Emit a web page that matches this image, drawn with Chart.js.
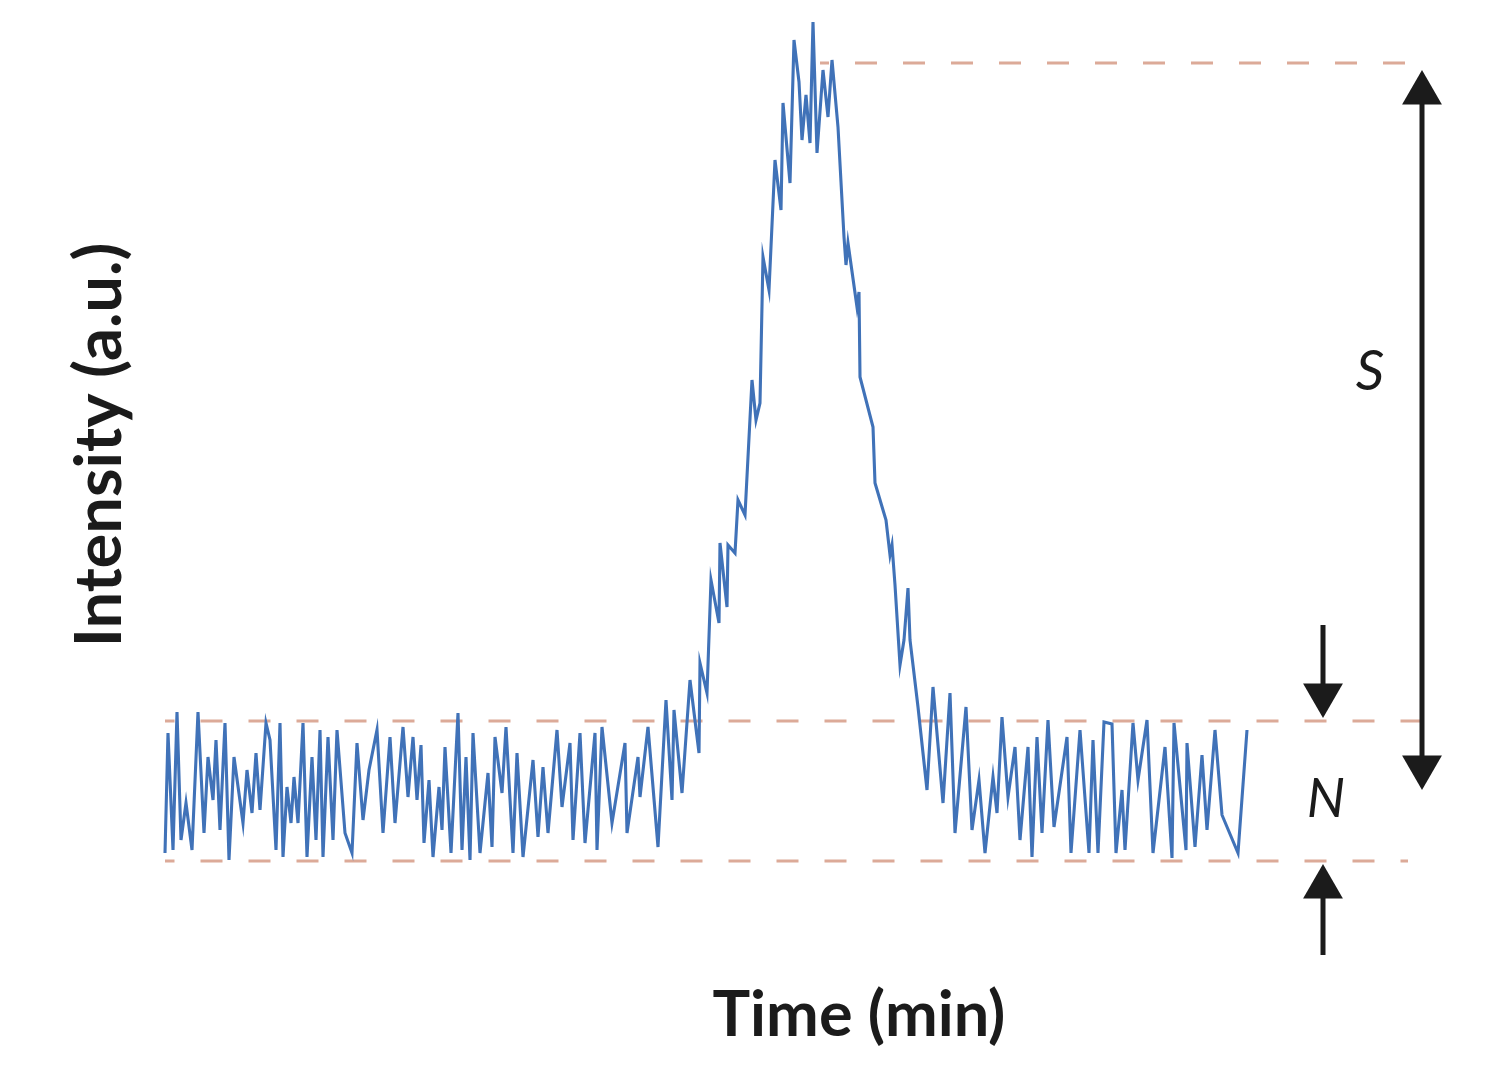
<!DOCTYPE html>
<html><head><meta charset="utf-8">
<script src="https://cdn.jsdelivr.net/npm/chart.js@4.4.1/dist/chart.umd.min.js"></script>
<style>html,body{margin:0;padding:0;background:#fff}#wrap{width:1500px;height:1080px}</style>
</head><body><div id="wrap"><canvas id="c" width="1500" height="1080"></canvas></div>
<script>
// Signal trace (time in min, intensity in a.u.)
const timeMin = [
0.5,0.8,1.3,1.7,2.1,2.6,3.2,3.8,4.4,4.8,5.3,5.6,6.0,6.5,6.9,7.4,8.3,8.7,9.2,9.6,
10.0,10.6,11.0,11.6,12.0,12.3,12.7,13.1,13.4,13.8,14.3,14.7,15.2,15.6,16.0,16.3,16.8,17.3,17.7,18.5,
19.2,19.7,20.3,20.9,21.7,22.3,23.0,23.5,24.3,24.8,25.3,25.7,26.1,26.4,26.9,27.3,27.9,28.2,28.5,29.1,
29.8,30.2,30.6,31.0,31.3,32.0,32.8,33.2,33.5,34.2,34.6,35.3,35.7,36.3,37.3,37.8,38.3,38.8,39.7,40.2,
41.0,41.3,42.0,42.5,43.5,43.7,44.2,45.2,46.5,46.7,47.8,48.0,48.8,49.8,50.6,51.2,51.4,52.2,53.0,53.9,
54.0,54.7,55.1,55.9,56.0,56.7,56.8,57.5,57.8,58.5,59.2,59.6,60.0,60.3,60.9,61.5,62.1,62.3,63.0,63.4,
63.9,64.2,64.6,65.0,65.3,65.7,66.3,66.8,67.2,67.8,68.4,68.6,68.8,69.7,69.9,70.0,71.3,71.5,72.3,72.6,
73.0,73.2,73.5,74.0,74.4,74.8,75.0,75.8,76.7,77.3,78.3,79.0,79.5,80.6,81.2,81.9,82.5,83.3,83.7,84.2,
84.8,85.5,86.0,86.8,87.2,87.7,88.2,88.8,89.4,90.7,91.1,92.0,92.9,93.3,93.8,94.4,95.2,95.6,96.2,96.5,
97.3,97.8,98.7,99.3,100.5,101.2,101.4,102.6,102.7,103.5,104.2,104.7,105.5,106.2,107.8,108.7
];
const intensity = [
0.8,12.8,1.1,14.9,2.1,5.8,1.1,14.9,2.8,10.4,6.1,12.1,3.1,13.8,0.1,10.4,3.8,9.1,4.8,10.8,
5.1,13.8,12.1,1.1,13.8,0.4,7.4,3.8,8.4,3.8,13.8,0.4,10.4,2.1,13.1,0.4,12.4,2.1,13.1,2.8,
0.8,11.8,4.1,9.1,13.1,2.8,12.4,3.8,13.4,6.4,12.4,6.1,11.6,1.8,8.1,0.4,7.4,3.1,11.4,0.8,
14.8,1.1,10.4,0.1,12.8,0.8,8.8,1.4,12.4,6.8,13.4,0.8,10.8,0.4,10.1,2.4,9.4,2.8,13.1,5.4,
11.8,2.1,12.8,1.8,12.8,1.1,13.4,3.8,11.8,2.8,10.4,6.4,13.4,1.4,16.1,6.1,15.1,6.8,18.1,10.8,
19.8,16.8,28.1,23.8,31.8,25.4,31.6,30.8,36.1,34.6,48.1,44.1,45.8,60.4,57.1,70.1,65.1,75.8,67.8,82.1,
77.9,72.1,76.6,71.8,83.9,70.8,79.1,74.4,80.1,73.4,62.4,59.6,61.8,55.4,56.9,48.4,43.4,37.8,35.1,34.1,
30.6,31.6,27.6,19.6,22.1,27.3,22.1,15.4,7.1,17.4,5.8,16.8,2.8,15.4,3.1,8.1,0.8,8.4,4.8,14.4,
6.4,11.4,2.1,11.4,0.4,12.4,2.8,14.1,3.4,12.4,0.8,13.1,0.8,12.1,0.8,13.9,13.7,0.8,7.1,1.1,
13.8,8.1,14.1,0.8,11.4,0.3,13.8,1.1,11.8,1.4,10.6,3.1,13.1,4.6,0.8,13.1
];
// Reference levels (a.u.)
const levelNames = ['signalTop','noiseTop','noiseBottom'];
const levelValues = [79.8, 14.0, 0.0];
const levelFrom = [66.0, 0.5, 0.5];
const levelTo = [124.8, 126.5, 124.8];
const levelDashOffset = [13, 12.5, 12.5];
// Arrows: x, start value, end value (head at end value)
const arrowS = {x:126.2, from:76.8, to:9.4};
const arrowNTop = {x:116.3, from:23.6, to:16.6};
const arrowNBottom = {x:116.3, from:-9.4, to:-2.6};
const labels = [{text:'S', x:121.0, y:48.9, size:56},{text:'N', x:116.6, y:6.1, size:54}];
const xTitle = 'Time (min)';
const yTitle = 'Intensity (a.u.)';
const xRange = [5.8, 134];
const yRange = [-2.9, 86.1];

const signal = timeMin.map((t,i)=>({x:t,y:intensity[i]}));
const dashColor = '#dcaa98';
const datasets = [];
datasets.push({data:signal, borderColor:'#4072b8', borderWidth:3.1, pointRadius:0, tension:0, clip:false, order:1});
levelValues.forEach((v,i)=>{
  datasets.push({label:levelNames[i], data:[{x:levelFrom[i],y:v},{x:levelTo[i],y:v}],
    borderColor:dashColor, borderWidth:3, borderDash:[22,26], borderDashOffset:levelDashOffset[i],
    pointRadius:0, clip:false, order:5});
});
function arrow(a, headStart, headEnd, rotStart, rotEnd){
  return {data:[{x:a.x,y:a.from},{x:a.x,y:a.to}], borderColor:'#1b1b1b', backgroundColor:'#1b1b1b',
    borderWidth:5, pointStyle:'triangle', pointRadius:[headStart?23:0, headEnd?23:0],
    pointRotation:[rotStart, rotEnd], pointBorderWidth:0, clip:false, order:0};
}
datasets.push(arrow(arrowS, true, true, 0, 180));
datasets.push(arrow(arrowNTop, false, true, 0, 180));
datasets.push(arrow(arrowNBottom, false, true, 0, 0));

const labelPlugin = {
  id:'labels',
  afterDatasetsDraw(chart){
    const ctx = chart.ctx, xs = chart.scales.x, ys = chart.scales.y;
    ctx.save();
    ctx.fillStyle = '#1b1b1b';
    ctx.textAlign = 'center'; ctx.textBaseline = 'middle';
    labels.forEach(l=>{
      ctx.font = 'italic ' + l.size + 'px Lato';
      ctx.fillText(l.text, xs.getPixelForValue(l.x), ys.getPixelForValue(l.y));
    });
    ctx.restore();
  }
};

new Chart(document.getElementById('c'), {
  type:'line',
  data:{datasets},
  plugins:[labelPlugin],
  options:{
    responsive:false, animation:false,
    layout:{autoPadding:false, padding:{left:0, right:0, top:0, bottom:0}},
    plugins:{legend:{display:false}, tooltip:{enabled:false}},
    scales:{
      x:{type:'linear', bounds:'data', grid:{display:false, drawTicks:false}, border:{display:false},
        ticks:{display:false},
        afterDataLimits(scale){ scale.min = xRange[0]; scale.max = xRange[1]; },
        title:{display:true, text:xTitle, color:'#1b1b1b', font:{family:'Lato', size:63, weight:'bold', lineHeight:1.2}, padding:{top:88.2, bottom:26.2}}},
      y:{type:'linear', min:yRange[0], max:yRange[1], grid:{display:false, drawTicks:false}, border:{display:false},
        ticks:{display:false},
        title:{display:true, text:yTitle, color:'#1b1b1b', font:{family:'Lato', size:65, weight:'bold', lineHeight:1.2}, padding:{top:61, bottom:79}}}
    }
  }
});
</script>
</body></html>
